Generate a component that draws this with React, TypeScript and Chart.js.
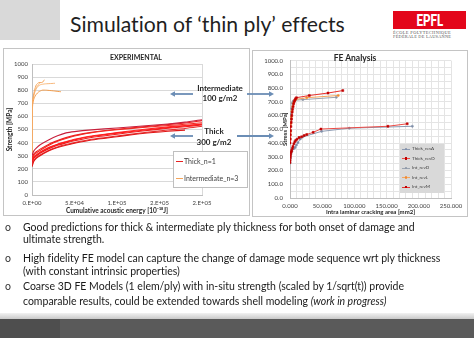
import React, { useEffect, useRef } from 'react';
import { Chart, registerables } from 'chart.js';
Chart.register(...registerables);

const FONT = 'Lato, "Open Sans", "DejaVu Sans", sans-serif';

// ---------- EXPERIMENTAL chart data ----------
const expX = [0, 2000, 5000, 10000, 20000, 30000, 40000, 50000, 70000, 100000, 130000, 160000, 180000, 200000];
const thick1 = [300, 335, 358, 385, 422, 452, 474, 484, 497, 512, 527, 542, 556, 575];
const thick2 = [262, 288, 306, 326, 361, 386, 404, 421, 446, 472, 494, 514, 527, 540];
const thick3 = [245, 279, 297, 321, 354, 379, 398, 414, 439, 464, 489, 509, 521, 534];
const thick4 = [272, 301, 320, 342, 380, 410, 432, 450, 475, 498, 515, 530, 540, 552];
const thick5 = [215, 255, 280, 302, 338, 362, 380, 395, 420, 445, 470, 487, 495, null];
const thick6 = [252, 284, 301, 329, 364, 388, 407, 425, 451, 476, 500, 520, 531, 542];
const thick7 = [228, 262, 285, 308, 342, 367, 385, 400, 425, 450, 475, 496, 508, 525];
const thick8 = [282, 312, 330, 352, 388, 415, 438, 455, 478, 502, 520, 538, 550, 568];
const thickCurves = [thick1, thick2, thick3, thick4, thick5, thick6, thick7, thick8];
const thickColors = ['#c8203c', '#ff1a1a', '#e82020', '#f02a24', '#e01818', '#ff2a2a', '#e83030', '#f01c1c'];

const inter1X = [0, 200, 600, 1500, 3000, 5000, 8000, 11000, 13000, 14500];
const inter1Y = [310, 650, 705, 750, 800, 840, 858, 858, 864, 880];
const inter2X = [0, 300, 2000, 4000, 7000, 10000, 15000, 20000, 27000];
const inter2Y = [320, 700, 760, 800, 830, 842, 848, 850, 853];
const inter3X = [0, 300, 800, 2500, 5000, 8000, 12000, 17000, 25000, 34000];
const inter3Y = [300, 600, 690, 740, 768, 788, 800, 800, 795, 788];
const inter4X = [0, 300, 1000, 3000, 6000, 9500];
const inter4Y = [330, 660, 722, 780, 830, 857];
const interCurves = [[inter1X, inter1Y], [inter2X, inter2Y], [inter3X, inter3Y], [inter4X, inter4Y]];
const interColors = ['#f5a55a', '#f7b77a', '#f39c4a', '#f8c08a'];

const expXTicks = [0, 50000, 100000, 150000, 200000];
const expXTickLabels = ['0.E+00', '5.E+04', '1.E+05', '2.E+05', '2.E+05'];

// ---------- FE Analysis chart data ----------
const thickRevAX = [0, 0.5, 1.5, 3, 6, 8, 10, 12.4, 16, 20, 49, 92, 190];
const thickRevAY = [255, 290, 320, 340, 360, 368, 385, 403, 430, 445, 485, 508, 522];
const thickRevDX = [0, 0.2, 0.5, 0.8, 1.2, 1.8, 2.5, 3.5, 4.5, 6, 7.5, 9, 11, 14, 18, 22, 26, 36, 48, 152, 182];
const thickRevDY = [258, 275, 295, 310, 325, 335, 345, 360, 375, 395, 410, 420, 428, 440, 445, 455, 462, 478, 502, 522, 540];
const intRevDX = [0, 0.5, 1.2, 2, 2.6, 3.5, 5, 8, 20, 72];
const intRevDY = [430, 490, 560, 610, 650, 690, 705, 712, 716, 733];
const intRevLX = [0, 0.5, 1.2, 2, 3, 4.2, 5.5, 7, 9, 26, 75];
const intRevLY = [420, 480, 540, 590, 630, 665, 690, 708, 718, 730, 746];
const intRevMX = [0, 0.3, 0.6, 1, 1.4, 1.8, 2.3, 2.8, 3.4, 4, 4.8, 5.6, 6.5, 7.5, 8.5, 10, 30, 59, 82];
const intRevMY = [400, 430, 460, 490, 520, 550, 575, 600, 625, 645, 665, 685, 700, 712, 722, 730, 746, 764, 782];
const feLabels = ['Thick_revA', 'Thick_revD', 'Int_revD', 'Int_revL', 'Int_revM'];
const feLineColors = ['#8c9bb3', '#ec4a44', '#9aa3b0', '#f4a45c', '#e8302c'];
const fePointColors = ['#7f8ea8', '#c00000', '#8a94a4', '#f08a30', '#c00000'];

const pts = (xs: number[], ys: (number | null)[]) =>
  xs.map((x, i) => ({ x, y: ys[i] })).filter((p) => p.y !== null) as { x: number; y: number }[];

function ExpChart() {
  const ref = useRef<HTMLCanvasElement>(null);
  useEffect(() => {
    const red = thickCurves.map((ys, i) => ({
      label: i === 0 ? 'Thick_n=1' : 'Thick_' + (i + 1),
      data: pts(expX, ys),
      showLine: true,
      borderColor: thickColors[i],
      borderWidth: 1.1,
      pointRadius: 0,
      tension: 0.2,
    }));
    const orange = interCurves.map(([xs, ys], i) => ({
      label: i === 0 ? 'Intermediate_n=3' : 'Intermediate_' + (i + 1),
      data: pts(xs, ys),
      showLine: true,
      borderColor: interColors[i],
      borderWidth: 1,
      pointRadius: 0,
      tension: 0.2,
    }));
    const tickFont = { family: FONT, size: 6 };
    const chart = new Chart(ref.current!, {
      type: 'scatter',
      data: { datasets: [...red, ...orange] as any },
      options: {
        responsive: false,
        animation: false,
        devicePixelRatio: 1,
        layout: { padding: { left: 0, top: 16, right: 48, bottom: 0 } },
        plugins: { legend: { display: false }, tooltip: { enabled: false } },
        scales: {
          x: {
            type: 'linear',
            min: 0,
            max: 200000,
            afterBuildTicks: (s: any) => {
              s.ticks = expXTicks.map((v) => ({ value: v }));
            },
            ticks: {
              font: tickFont,
              color: '#404040',
              padding: 4,
              maxRotation: 0,
              autoSkip: false,
              callback: (v: any) => {
                const i = expXTicks.indexOf(Number(v));
                return i >= 0 ? expXTickLabels[i] : '';
              },
            },
            grid: {
              drawTicks: false,
              color: (c: any) => (c.index === expXTicks.length - 1 ? '#d9d9d9' : 'rgba(0,0,0,0)'),
            },
            border: { color: '#bfbfbf' },
            title: {
              display: true,
              text: 'Cumulative acoustic energy [10⁻¹⁸J]',
              font: { family: FONT, size: 6.5, weight: 'bold' },
              color: '#262626',
              padding: { top: 0, bottom: 1 },
            },
            afterFit: (s: any) => {
              s.height = 21;
            },
          },
          y: {
            min: 0,
            max: 1000,
            ticks: {
              stepSize: 100,
              font: tickFont,
              color: '#404040',
              padding: 4,
              callback: (v: any) => String(v),
            },
            grid: { drawTicks: false, color: '#d9d9d9' },
            border: { color: '#bfbfbf' },
            title: {
              display: true,
              text: 'Strength [MPa]',
              font: { family: FONT, size: 6.5, weight: 'bold' },
              color: '#262626',
              padding: { top: 3, bottom: 0 },
            },
            afterFit: (s: any) => {
              s.width = 29;
            },
          },
        },
      } as any,
    });
    return () => chart.destroy();
  }, []);
  return <canvas ref={ref} width={247} height={168} style={{ position: 'absolute', left: 3, top: 48 }} />;
}

function FEChart() {
  const ref = useRef<HTMLCanvasElement>(null);
  useEffect(() => {
    const series = [
      [thickRevAX, thickRevAY],
      [thickRevDX, thickRevDY],
      [intRevDX, intRevDY],
      [intRevLX, intRevLY],
      [intRevMX, intRevMY],
    ];
    const drawOrder = [4, 1, 3, 2, 0];
    const datasets = drawOrder.map((k) => ({
      label: feLabels[k],
      data: pts(series[k][0] as number[], series[k][1] as number[]),
      showLine: true,
      borderColor: feLineColors[k],
      backgroundColor: fePointColors[k],
      pointBorderColor: fePointColors[k],
      borderWidth: 1,
      pointRadius: k === 1 || k === 4 ? 1.4 : 1.1,
      pointStyle: k === 1 || k === 4 ? 'rect' : 'circle',
      pointBorderWidth: 0.5,
    }));
    const tickFont = { family: FONT, size: 6 };
    const chart = new Chart(ref.current!, {
      type: 'scatter',
      data: { datasets } as any,
      options: {
        responsive: false,
        animation: false,
        devicePixelRatio: 1,
        layout: { padding: { left: 0, top: 9, right: 17, bottom: 0 } },
        plugins: { legend: { display: false }, tooltip: { enabled: false } },
        scales: {
          x: {
            type: 'linear',
            min: 0,
            max: 250,
            ticks: {
              stepSize: 10,
              font: tickFont,
              color: '#404040',
              padding: 4,
              maxRotation: 0,
              minRotation: 0,
              autoSkip: false,
              callback: (v: any) => (Number(v) % 50 === 0 ? Number(v).toFixed(3) : ''),
            },
            grid: { drawTicks: false, color: '#e4e4e4' },
            border: { color: '#bfbfbf' },
            title: {
              display: true,
              text: 'Intra laminar cracking area [mm2]',
              font: { family: FONT, size: 6, weight: 'bold' },
              color: '#262626',
              padding: { top: 0, bottom: 1 },
            },
            afterFit: (s: any) => {
              s.height = 19;
            },
          },
          y: {
            min: 0,
            max: 1000,
            ticks: {
              stepSize: 50,
              font: tickFont,
              color: '#404040',
              padding: 7,
              autoSkip: false,
              callback: (v: any) => (Number(v) % 100 === 0 ? Number(v).toFixed(1) : ''),
            },
            grid: { drawTicks: false, color: '#e4e4e4' },
            border: { color: '#bfbfbf' },
            title: {
              display: true,
              text: 'Stress [MPa]',
              font: { family: FONT, size: 6, weight: 'bold' },
              color: '#262626',
              padding: { top: 29, bottom: 0 },
            },
            afterFit: (s: any) => {
              s.width = 38;
            },
          },
        },
      } as any,
    });
    return () => chart.destroy();
  }, []);
  return <canvas ref={ref} width={216} height={167} style={{ position: 'absolute', left: 252, top: 50 }} />;
}

const abs = (o: React.CSSProperties): React.CSSProperties => ({ position: 'absolute', ...o });

function Arrow({ x1, x2, y }: { x1: number; x2: number; y: number }) {
  const dir = x2 > x1 ? 1 : -1;
  return (
    <g>
      <line x1={x1} y1={y} x2={x2 - dir * 4} y2={y} stroke="#6b8db5" strokeWidth={1.8} />
      <polygon points={`${x2},${y} ${x2 - dir * 5},${y - 2.8} ${x2 - dir * 5},${y + 2.8}`} fill="#6b8db5" />
    </g>
  );
}

const bulletLines: { text: React.ReactNode; baseline: number; bullet?: boolean }[] = [
  { text: 'Good predictions for thick & intermediate ply thickness for both onset of damage and', baseline: 231, bullet: true },
  { text: 'ultimate strength.', baseline: 243.5 },
  { text: 'High fidelity FE model can capture the change of damage mode sequence wrt ply thickness', baseline: 262.5, bullet: true },
  { text: '(with constant intrinsic properties)', baseline: 275 },
  { text: 'Coarse 3D FE Models (1 elem/ply) with in-situ strength (scaled by 1/sqrt(t)) provide', baseline: 290.5, bullet: true },
  {
    text: (
      <>
        comparable results, could be extended towards shell modeling <i>(work in progress)</i>
      </>
    ),
    baseline: 305,
  },
];

export default function App() {
  const bfs = 10.5;
  return (
    <div
      style={{
        position: 'fixed',
        left: 0,
        top: 0,
        width: 474,
        height: 338,
        overflow: 'hidden',
        background: '#ffffff',
        fontFamily: FONT,
        color: '#1a1a1a',
        fontVariantLigatures: 'none',
        fontFeatureSettings: '"liga" 0, "dlig" 0',
      }}
    >
      {/* header */}
      <div style={abs({ left: 0, top: 0, width: 60, height: 40, background: '#d9d9d9' })} />
      <div style={abs({ left: 70, top: 13.5, fontSize: 21.2, lineHeight: '21.2px', whiteSpace: 'nowrap', color: '#1f1f1f' })}>
        Simulation of ‘thin ply’ effects
      </div>
      <div style={abs({ left: 393, top: 11, width: 73, height: 18, background: '#e3061b' })} />
      <div
        style={abs({
          left: 393,
          top: 11,
          width: 73,
          height: 18,
          color: '#fff',
          fontWeight: 900,
          fontSize: 17,
          lineHeight: '18px',
          textAlign: 'center',
          transform: 'scaleX(0.72)',
          letterSpacing: -0.5,
        })}
      >
        EPFL
      </div>
      <div style={abs({ left: 393, top: 30.5, width: 73, fontSize: 4.4, lineHeight: '4.4px', fontFamily: '"Liberation Serif", serif', color: '#555', letterSpacing: 0.35, whiteSpace: 'nowrap' })}>
        ÉCOLE POLYTECHNIQUE
      </div>
      <div style={abs({ left: 393, top: 34.5, width: 73, fontSize: 4.4, lineHeight: '4.4px', fontFamily: '"Liberation Serif", serif', color: '#555', letterSpacing: 0.2, whiteSpace: 'nowrap' })}>
        FÉDÉRALE DE LAUSANNE
      </div>

      {/* chart frames */}
      <div style={abs({ left: 3, top: 48, width: 247, height: 168, border: '1px solid #c4c4c4', boxSizing: 'border-box' })} />
      <div style={abs({ left: 252, top: 50, width: 216, height: 167, border: '1px solid #c4c4c4', boxSizing: 'border-box' })} />

      <ExpChart />
      <FEChart />

      {/* chart titles */}
      <div style={abs({ left: 96, top: 53, width: 80, textAlign: 'center', fontSize: 7, lineHeight: '8px', fontWeight: 700, color: '#262626' })}>
        EXPERIMENTAL
      </div>
      <div style={abs({ left: 315, top: 53, width: 80, textAlign: 'center', fontSize: 8.5, lineHeight: '10px', fontWeight: 700, color: '#262626' })}>
        FE Analysis
      </div>

      {/* left legend */}
      <div style={abs({ left: 173, top: 151, width: 75, height: 37, background: '#fff', border: '1px solid #bfbfbf', boxSizing: 'border-box' })} />
      <div style={abs({ left: 176, top: 160.5, width: 7, height: 1.2, background: '#e82020' })} />
      <div style={abs({ left: 184, top: 157, fontSize: 7, lineHeight: '8px', color: '#404040', whiteSpace: 'nowrap' })}>Thick_n=1</div>
      <div style={abs({ left: 176, top: 177.5, width: 7, height: 1.2, background: '#f5a55a' })} />
      <div style={abs({ left: 184, top: 174, fontSize: 7, lineHeight: '8px', color: '#404040', whiteSpace: 'nowrap' })}>Intermediate_n=3</div>

      {/* right legend */}
      <div style={abs({ left: 400, top: 144, width: 44, height: 49, background: '#d9d9d9' })} />
      {feLabels.map((l, i) => {
        const y = 149 + i * 9.5;
        return (
          <React.Fragment key={l}>
            <div style={abs({ left: 402, top: y - 0.5, width: 8, height: 1, background: feLineColors[i] })} />
            <div style={abs({ left: 405, top: y - 1.2, width: 2.4, height: 2.4, background: fePointColors[i], borderRadius: i === 1 || i === 4 ? 0 : 2 })} />
            <div style={abs({ left: 412, top: y - 2.6, fontSize: 4.6, lineHeight: '5px', color: '#404040', whiteSpace: 'nowrap' })}>{l}</div>
          </React.Fragment>
        );
      })}

      {/* annotations */}
      <div style={abs({ left: 194, top: 83, width: 52, textAlign: 'center', fontSize: 8, lineHeight: '10px', fontWeight: 700, color: '#262626', whiteSpace: 'nowrap' })}>
        Intermediate
        <br />
        100 g/m2
      </div>
      <div style={abs({ left: 190, top: 126, width: 48, textAlign: 'center', fontSize: 8, lineHeight: '11px', fontWeight: 700, color: '#262626', whiteSpace: 'nowrap' })}>
        Thick
        <br />
        300 g/m2
      </div>
      <svg width={474} height={338} style={abs({ left: 0, top: 0, pointerEvents: 'none' })}>
        <Arrow x1={193} x2={170} y={94} />
        <Arrow x1={193} x2={170} y={136} />
        <Arrow x1={247} x2={274} y={94} />
        <Arrow x1={237} x2={274} y={136} />
      </svg>

      {/* bullets */}
      {bulletLines.map((b, i) => (
        <React.Fragment key={i}>
          {b.bullet && (
            <div style={abs({ left: 5, top: b.baseline - bfs * 0.887, fontSize: bfs, lineHeight: bfs + 'px', color: '#333' })}>o</div>
          )}
          <div style={abs({ left: 23, top: b.baseline - bfs * 0.887, fontSize: bfs, lineHeight: bfs + 'px', whiteSpace: 'nowrap' })}>
            {b.text}
          </div>
        </React.Fragment>
      ))}

      {/* footer */}
      <div style={abs({ left: 0, top: 313, width: 474, height: 6, background: 'linear-gradient(#f2f2f2, #c9c9c9)' })} />
      <div style={abs({ left: 0, top: 319, width: 474, height: 19, background: '#5a5a5a' })} />
      <div style={abs({ left: 0, top: 319, width: 60, height: 19, background: '#4e4e4e' })} />
    </div>
  );
}
